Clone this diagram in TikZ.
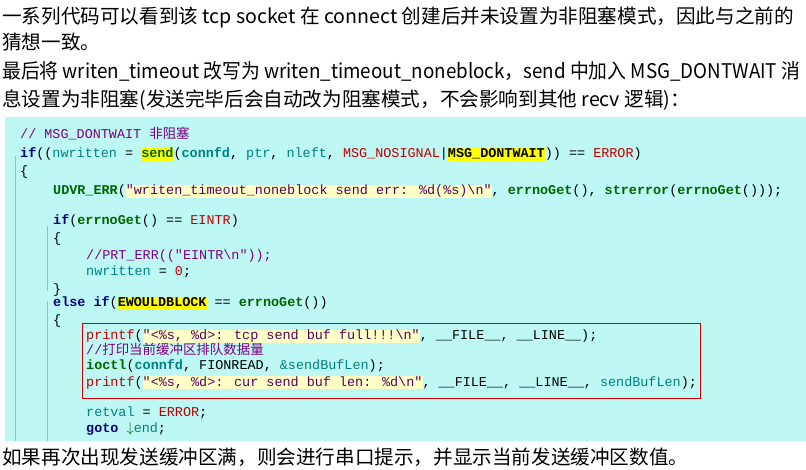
\documentclass[tikz,border=0pt]{standalone}
\usepackage{fontspec}
\usepackage{graphicx}
\setmainfont{Noto Sans CJK SC}
\newfontfamily\codefont{Liberation Mono}
\newfontfamily\cjkc{Noto Sans CJK SC}
\definecolor{bgc}{HTML}{BDF8F4}
\definecolor{kwc}{HTML}{000080}
\definecolor{fnc}{HTML}{006400}
\definecolor{vac}{HTML}{008080}
\definecolor{csc}{HTML}{C00000}
\definecolor{cmc}{HTML}{800080}
\definecolor{stbg}{HTML}{FFFFC8}
\definecolor{hly}{HTML}{FFFF00}
\newcommand\kw[1]{\textcolor{kwc}{\bfseries #1}}
\newcommand\fn[1]{\textcolor{fnc}{\bfseries #1}}
\newcommand\va[1]{\textcolor{vac}{#1}}
\newcommand\cs[1]{\textcolor{csc}{#1}}
\newcommand\cm[1]{\textcolor{cmc}{#1}}
\newcommand\hlb[2]{{\setlength\fboxsep{0pt}\colorbox{#1}{\vphantom{Ag(}#2}}}
\newcommand\st[1]{\hlb{stbg}{\textcolor{cmc!70!black}{#1}}}
\newcommand\zh[1]{{\cjkc #1}}
\begin{document}
\begin{tikzpicture}[x=1pt,y=-1pt,
  txt/.style={anchor=west,inner sep=0pt,font=\fontsize{19.6}{22}\selectfont},
  cl/.style={anchor=base west,inner sep=0pt,font=\codefont\fontsize{13.45}{16}\selectfont},
  fold/.style={draw=gray!60,line width=0.5pt}]
\useasboundingbox (0,0) rectangle (806,470);
\fill[white] (0,0) rectangle (806,470);
\node[txt] (t1) at (2,17) {一系列代码可以看到该 tcp socket 在 connect 创建后并未设置为非阻塞模式，因此与之前的};
\node[txt] (t2) at (2,42) {猜想一致。};
\node[txt] (t3) at (2,71) {\resizebox{798pt}{17pt}{最后将 writen\_timeout 改写为 writen\_timeout\_noneblock，send 中加入 MSG\_DONTWAIT 消}};
\node[txt] (t4) at (2,100) {息设置为非阻塞(发送完毕后会自动改为阻塞模式，不会影响到其他 recv 逻辑)：};
\fill[bgc] (5,117) rectangle (806,441);
\draw[fold] (15,156) -- (15,441);
\draw[fold] (47,226) -- (47,291);
\draw[fold] (47,301) -- (47,441);
\node[cl] (c1) at (20,139) {\cm{// MSG\_DONTWAIT \zh{非阻塞}}};
\node[cl] (c2) at (20,158) {\kw{if}((\va{nwritten} = \hlb{hly}{\fn{send}}(\va{\bfseries connfd}, \va{ptr}, \va{nleft}, \cs{MSG\_NOSIGNAL}|\hlb{hly}{\textcolor{black}{\bfseries MSG\_DONTWAIT}})) == \cs{ERROR})};
\node[cl] (c3) at (20,176) {\{};
\node[cl] (c4) at (53,195) {\fn{UDVR\_ERR}(\st{"writen\_timeout\_noneblock send err: \%d(\%s)\textbackslash n"}, \fn{errnoGet}(), \fn{strerror}(\fn{errnoGet}()));};
\node[cl] (c5) at (53,225) {\kw{if}(\fn{errnoGet}() == \cs{EINTR})};
\node[cl] (c6) at (53,243) {\{};
\node[cl] (c7) at (86,260) {\cm{//PRT\_ERR(("EINTR\textbackslash n"));}};
\node[cl] (c8) at (86,276) {\va{nwritten} = \cs{0};};
\node[cl] (c9) at (53,294) {\}};
\node[cl] (c10) at (53,307) {\kw{else if}(\hlb{hly}{\textcolor{black}{\bfseries EWOULDBLOCK}} == \fn{errnoGet}())};
\node[cl] (c11) at (53,325) {\{};
\node[cl] (c12) at (86,340) {\cs{printf}(\st{"<\%s, \%d>: tcp send buf full!!!\textbackslash n"}, \_\_FILE\_\_, \_\_LINE\_\_);};
\node[cl] (c13) at (86,355) {\cm{//\zh{打印当前缓冲区排队数据量}}};
\node[cl] (c14) at (86,370) {\fn{ioctl}(\va{\bfseries connfd}, FIONREAD, \va{\&sendBufLen});};
\node[cl] (c15) at (86,386) {\cs{printf}(\st{"<\%s, \%d>: cur send buf len: \%d\textbackslash n"}, \_\_FILE\_\_, \_\_LINE\_\_, \va{sendBufLen});};
\draw[red!80!black,line width=1pt] (82,324) rectangle (700,398);
\node[cl] (c16) at (86,416) {\va{retval} = \cs{ERROR};};
\node[cl] (c17) at (86,432) {\kw{goto} \textcolor{fnc}{$\downarrow$}\va{end};};
\node[txt] (t5) at (2,457) {如果再次出现发送缓冲区满，则会进行串口提示，并显示当前发送缓冲区数值。};
\end{tikzpicture}
\end{document}
